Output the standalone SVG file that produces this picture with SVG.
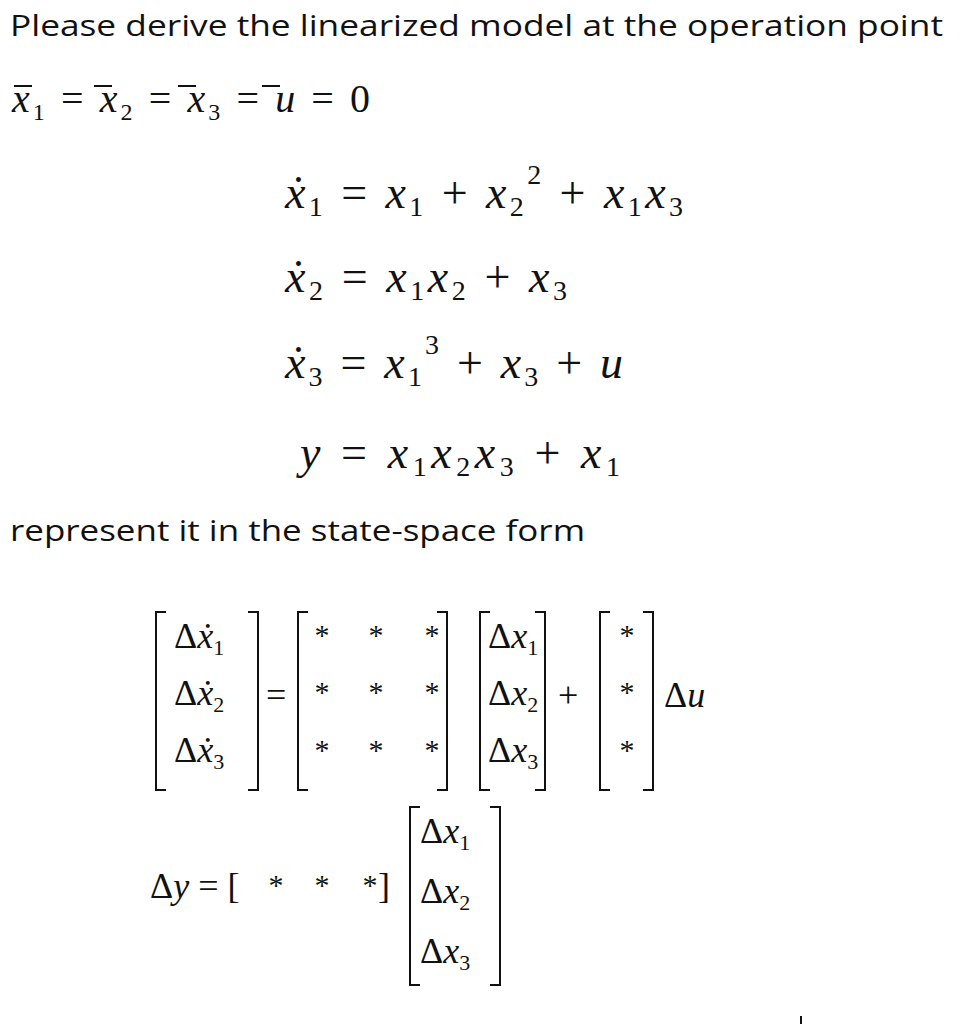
<svg xmlns="http://www.w3.org/2000/svg" width="967" height="1024" viewBox="0 0 967 1024">
<style>
.t{font-family:"Open Sans","Liberation Sans",sans-serif;font-size:29px;fill:#111}
text.m,.m text{font-family:"Liberation Serif","Times New Roman","DejaVu Serif",serif;fill:#111}
.i{font-style:italic}
.b{fill:none;stroke:#111;stroke-width:2}
</style>
<rect width="967" height="1024" fill="#fff"/>
<text class="t" x="10" y="36" textLength="933" lengthAdjust="spacingAndGlyphs">Please derive the linearized model at the operation point</text>
<g class="m" font-size="40">
<text class="m" x="12" y="112" textLength="358"><tspan class="i">x</tspan><tspan font-size="24" dy="8">1</tspan><tspan dy="-8"> = </tspan><tspan class="i">x</tspan><tspan font-size="24" dy="8">2</tspan><tspan dy="-8"> = </tspan><tspan class="i">x</tspan><tspan font-size="24" dy="8">3</tspan><tspan dy="-8"> = </tspan><tspan class="i">u</tspan><tspan> = 0</tspan></text>
</g>
<g class="b"><line x1="14" y1="86" x2="32" y2="86"/><line x1="94" y1="86" x2="112" y2="86"/><line x1="178" y1="86" x2="196" y2="86"/><line x1="262" y1="86" x2="280" y2="86"/></g>
<g class="m" font-size="46">
<text class="m" x="285" y="208" textLength="398"><tspan class="i">ẋ</tspan><tspan font-size="28" dy="8">1</tspan><tspan dy="-8"> = </tspan><tspan class="i">x</tspan><tspan font-size="28" dy="8">1</tspan><tspan dy="-8"> + </tspan><tspan class="i">x</tspan><tspan font-size="28" dy="8">2</tspan><tspan font-size="28" dy="-32">2</tspan><tspan dy="24"> + </tspan><tspan class="i">x</tspan><tspan font-size="28" dy="8">1</tspan><tspan class="i" dy="-8">x</tspan><tspan font-size="28" dy="8">3</tspan></text>
<text class="m" x="285" y="292" textLength="282"><tspan class="i">ẋ</tspan><tspan font-size="28" dy="8">2</tspan><tspan dy="-8"> = </tspan><tspan class="i">x</tspan><tspan font-size="28" dy="8">1</tspan><tspan class="i" dy="-8">x</tspan><tspan font-size="28" dy="8">2</tspan><tspan dy="-8"> + </tspan><tspan class="i">x</tspan><tspan font-size="28" dy="8">3</tspan></text>
<text class="m" x="285" y="378" textLength="338"><tspan class="i">ẋ</tspan><tspan font-size="28" dy="8">3</tspan><tspan dy="-8"> = </tspan><tspan class="i">x</tspan><tspan font-size="28" dy="8">1</tspan><tspan font-size="28" dy="-32">3</tspan><tspan dy="24"> + </tspan><tspan class="i">x</tspan><tspan font-size="28" dy="8">3</tspan><tspan dy="-8"> + </tspan><tspan class="i">u</tspan></text>
<text class="m" x="300" y="468" textLength="320"><tspan class="i">y</tspan><tspan> = </tspan><tspan class="i">x</tspan><tspan font-size="28" dy="8">1</tspan><tspan class="i" dy="-8">x</tspan><tspan font-size="28" dy="8">2</tspan><tspan class="i" dy="-8">x</tspan><tspan font-size="28" dy="8">3</tspan><tspan dy="-8"> + </tspan><tspan class="i">x</tspan><tspan font-size="28" dy="8">1</tspan></text>
</g>
<text class="t" x="10" y="541" textLength="575" lengthAdjust="spacingAndGlyphs">represent it in the state-space form</text>
<g class="b">
<path d="M166 612 H156 V790 H166"/><path d="M248 612 H258 V790 H248"/>
<path d="M308 612 H298 V790 H308"/><path d="M437 612 H447 V790 H437"/>
<path d="M490 612 H480 V790 H490"/><path d="M535 612 H545 V790 H535"/>
<path d="M610 612 H600 V790 H610"/><path d="M643 612 H653 V790 H643"/>
<path d="M420 807 H410 V985 H420"/><path d="M490 807 H500 V985 H490"/>
<line x1="801" y1="1016" x2="801" y2="1024"/>
</g>
<g class="m" font-size="36">
<text x="174" y="648">Δ<tspan class="i">ẋ</tspan><tspan font-size="22" dy="7">1</tspan></text>
<text x="174" y="705">Δ<tspan class="i">ẋ</tspan><tspan font-size="22" dy="7">2</tspan></text>
<text x="174" y="762">Δ<tspan class="i">ẋ</tspan><tspan font-size="22" dy="7">3</tspan></text>
<text x="266" y="707">=</text>
<text x="488" y="648">Δ<tspan class="i">x</tspan><tspan font-size="22" dy="7">1</tspan></text>
<text x="488" y="705">Δ<tspan class="i">x</tspan><tspan font-size="22" dy="7">2</tspan></text>
<text x="488" y="762">Δ<tspan class="i">x</tspan><tspan font-size="22" dy="7">3</tspan></text>
<text x="558" y="707">+</text>
<text x="664" y="707">Δ<tspan class="i">u</tspan></text>
<text x="150" y="898">Δ<tspan class="i">y</tspan> = [</text>
<text x="378" y="898">]</text>
<text x="420" y="843">Δ<tspan class="i">x</tspan><tspan font-size="22" dy="7">1</tspan></text>
<text x="420" y="903">Δ<tspan class="i">x</tspan><tspan font-size="22" dy="7">2</tspan></text>
<text x="420" y="963">Δ<tspan class="i">x</tspan><tspan font-size="22" dy="7">3</tspan></text>
</g>
<g class="m" font-size="30" text-anchor="middle">
<text x="322" y="645">*</text><text x="376" y="645">*</text><text x="432" y="645">*</text>
<text x="322" y="702">*</text><text x="376" y="702">*</text><text x="432" y="702">*</text>
<text x="322" y="760">*</text><text x="376" y="760">*</text><text x="432" y="760">*</text>
<text x="627" y="645">*</text><text x="627" y="702">*</text><text x="627" y="760">*</text>
<text x="276" y="895">*</text><text x="322" y="895">*</text><text x="370" y="895">*</text>
</g>
</svg>
